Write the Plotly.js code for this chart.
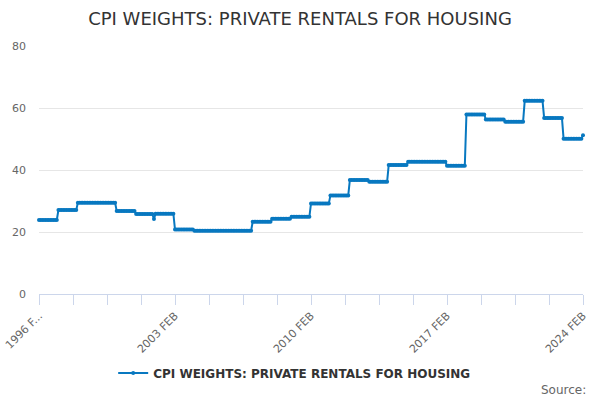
<!DOCTYPE html>
<html>
<head>
<meta charset="utf-8">
<script src="https://cdn.plot.ly/plotly-3.0.1.min.js"></script>
<style>
  html, body { margin: 0; padding: 0; background: #fff; }
  #chart { width: 600px; height: 400px; }
</style>
</head>
<body>
<div id="chart"></div>
<script>
// CPI weights (parts per 1000) for private rentals for housing.
// Each annual weight runs from February of its year to January of the next.
const weightYears = [1996, 1997, 1998, 1999, 2000, 2001, 2002, 2003, 2004, 2005,
                     2006, 2007, 2008, 2009, 2010, 2011, 2012, 2013, 2014, 2015,
                     2016, 2017, 2018, 2019, 2020, 2021, 2022, 2023, 2024];
const annualWeights = [23.9, 27.1, 29.4, 29.4, 26.8, 25.8, 25.9, 20.8, 20.4, 20.4,
                       20.4, 23.3, 24.3, 24.9, 29.2, 31.8, 36.8, 36.2, 41.6, 42.7,
                       42.7, 41.4, 57.9, 56.3, 55.6, 62.3, 56.8, 50.1, 51.2];
// Single months that differ from their annual weight
const monthOverrides = { "2002 JAN": 24.2 };

const monthNames = ["JAN", "FEB", "MAR", "APR", "MAY", "JUN",
                     "JUL", "AUG", "SEP", "OCT", "NOV", "DEC"];
const firstPeriod = "1996 FEB";
const lastPeriod = "2024 FEB";

// Monthly categories and values
const periods = [];
const values = [];
for (let k = 0; k < weightYears.length; k++) {
  const y = weightYears[k];
  for (let m = 1; m <= 12; m++) {
    const yy = m === 12 ? y + 1 : y;
    const label = yy + " " + monthNames[m % 12];
    periods.push(label);
    values.push(label in monthOverrides ? monthOverrides[label] : annualWeights[k]);
    if (label === lastPeriod) break;
  }
  if (periods[periods.length - 1] === lastPeriod) break;
}

// Ticks every 21 months, labels every fourth tick
const tickStep = 21;
const tickvals = [];
const ticktext = [];
for (let i = 0; i < periods.length; i += tickStep) {
  tickvals.push(periods[i]);
  const labelled = (i / tickStep) % 4 === 0;
  ticktext.push(labelled ? (periods[i] === firstPeriod ? "1996 F..." : periods[i]) : "");
}

const seriesName = "CPI WEIGHTS: PRIVATE RENTALS FOR HOUSING";
const lineColor = "#0878c0";
const font = "DejaVu Sans, sans-serif";

const trace = {
  type: "scatter",
  mode: "lines+markers",
  x: periods,
  y: values,
  name: seriesName,
  line: { color: lineColor, width: 2 },
  marker: { color: lineColor, size: 4 },
  cliponaxis: false,
  showlegend: true
};

const layout = {
  width: 600,
  height: 400,
  margin: { l: 39, r: 17, t: 46, b: 106 },
  paper_bgcolor: "#ffffff",
  plot_bgcolor: "#ffffff",
  font: { family: font, color: "#666666" },
  title: {
    text: seriesName,
    font: { family: font, size: 18, color: "#333333" },
    x: 0.5, xref: "container", xanchor: "center",
    y: 0.953, yref: "container", yanchor: "middle"
  },
  xaxis: {
    type: "category",
    categoryorder: "array",
    categoryarray: periods,
    range: [0, periods.length - 1],
    tickmode: "array",
    tickvals: tickvals,
    ticktext: ticktext,
    tickangle: -45,
    ticks: "outside",
    ticklen: 10,
    tickcolor: "#ccd6eb",
    tickwidth: 1,
    showline: true,
    linecolor: "#ccd6eb",
    linewidth: 1,
    showgrid: false,
    zeroline: false,
    tickfont: { family: font, size: 11, color: "#666666" }
  },
  yaxis: {
    range: [0, 80],
    dtick: 20,
    showgrid: true,
    gridcolor: "#e6e6e6",
    gridwidth: 1,
    zeroline: false,
    showline: false,
    ticks: "",
    ticklabelstandoff: 12,
    tickfont: { family: font, size: 11, color: "#666666" }
  },
  showlegend: true,
  legend: {
    orientation: "h",
    x: 0.47, xanchor: "center",
    y: -0.319, yanchor: "middle",
    font: { family: font, size: 12, color: "#333333", weight: "bold" },
    bgcolor: "rgba(0,0,0,0)"
  },
  annotations: [{
    text: "Source:",
    xref: "paper", yref: "paper",
    x: 1.009, xanchor: "right",
    y: -0.387, yanchor: "middle",
    showarrow: false,
    font: { family: font, size: 12, color: "#666666" }
  }]
};

Plotly.newPlot("chart", [trace], layout, { displayModeBar: false, staticPlot: true });
</script>
</body>
</html>
